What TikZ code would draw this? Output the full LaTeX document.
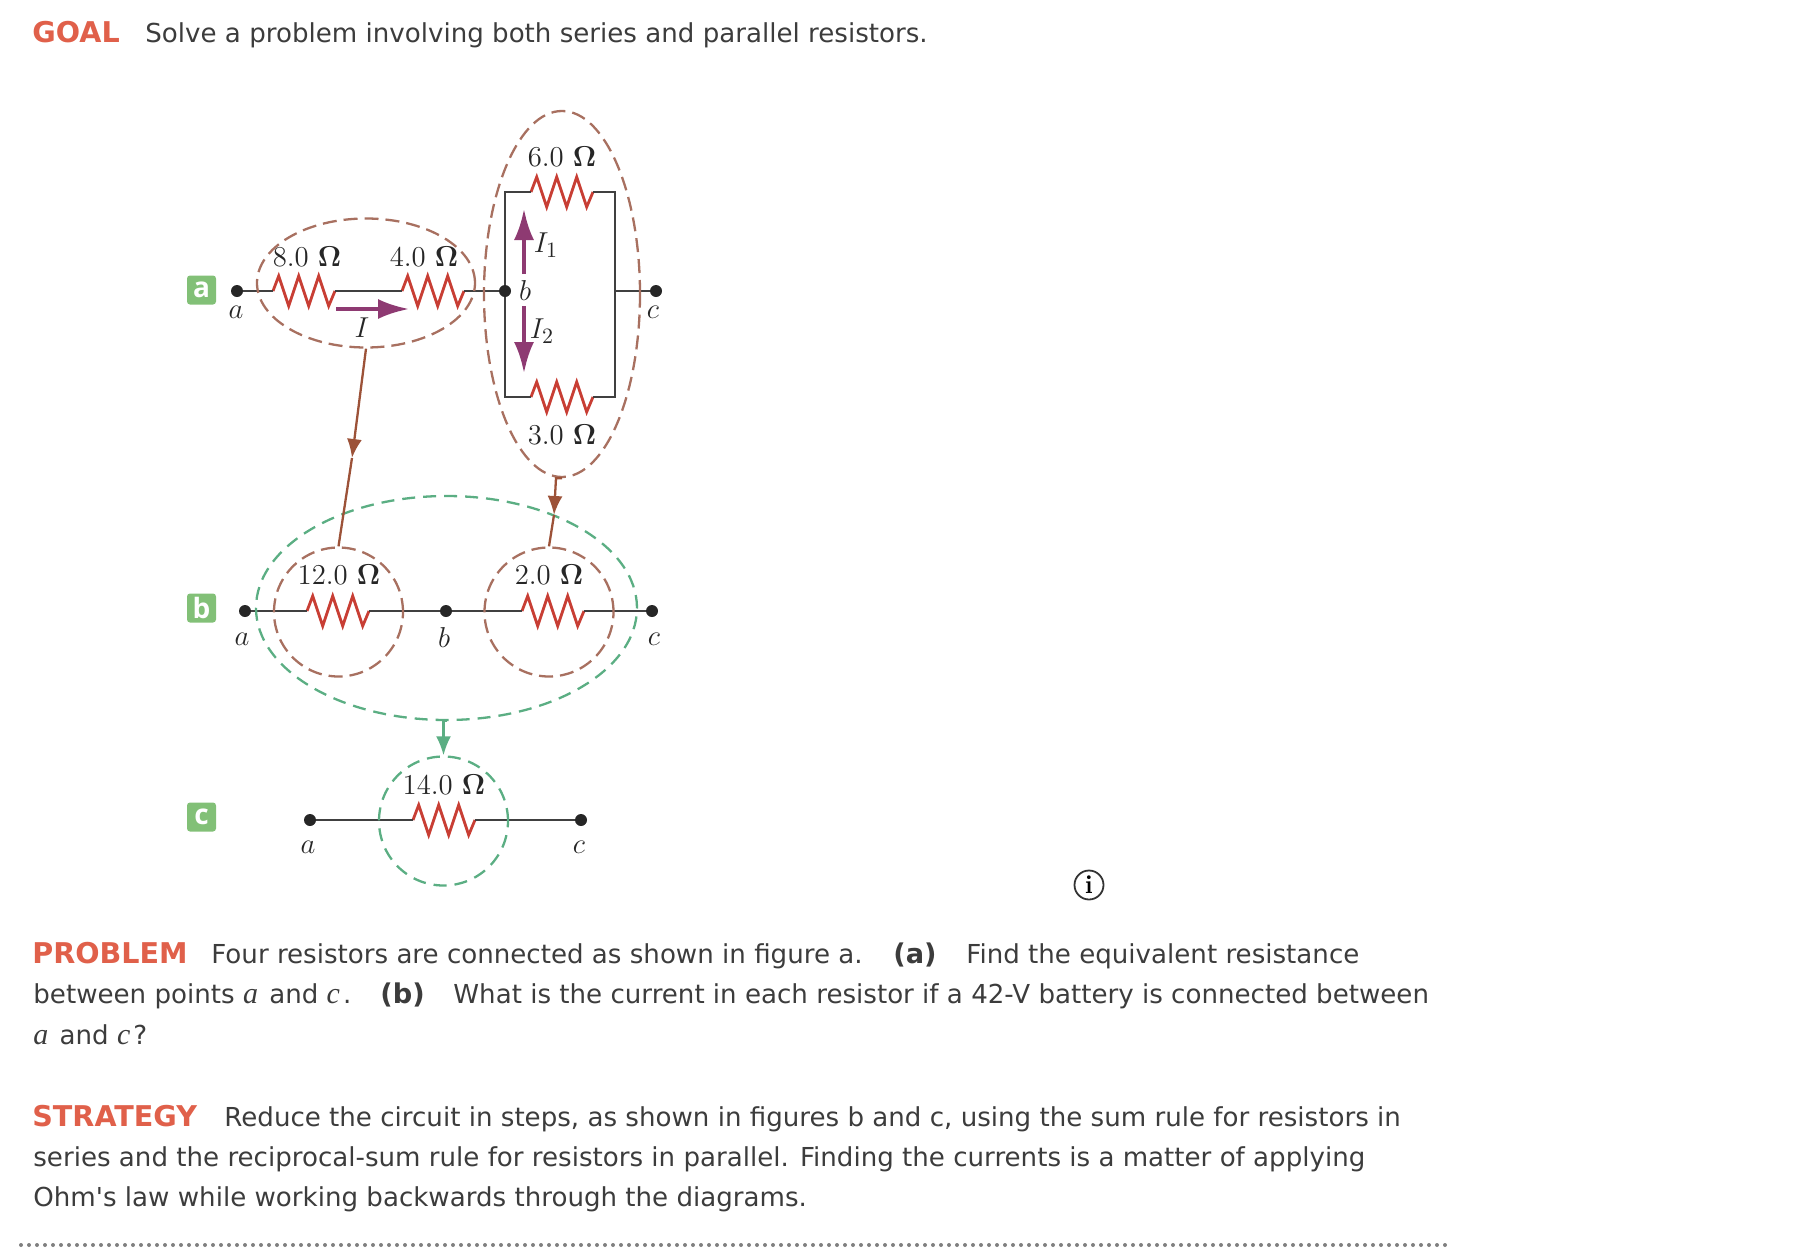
\documentclass[tikz,border=0pt]{standalone}
\usepackage[no-math]{fontspec}
\usepackage{xcolor}
\usetikzlibrary{arrows.meta,shapes.geometric}
\newfontfamily\bodyfont{DejaVu Sans}
\newfontfamily\tagfont{Open Sans}
\newfontfamily\varfont{Liberation Serif}
\newcommand{\varit}[1]{{\varfont\itshape\fontsize{15}{15}\selectfont #1}\hspace{1.5pt}}
\definecolor{headred}{RGB}{224,96,74}
\definecolor{bodygray}{RGB}{60,60,60}
\definecolor{tagfill}{RGB}{130,192,119}
\definecolor{zigred}{RGB}{200,62,52}
\definecolor{loopbrown}{RGB}{168,112,96}
\definecolor{linkbrown}{RGB}{156,82,56}
\definecolor{loopgreen}{RGB}{91,174,131}
\definecolor{currpurple}{RGB}{142,58,114}

\tikzset{
	bodytext/.style={anchor=base west,inner sep=0pt,text=bodygray,font=\bodyfont\fontsize{13.05}{15}\selectfont},
	headtext/.style={anchor=base west,inner sep=0pt,text=headred,font=\bodyfont\bfseries\fontsize{14.3}{17}\selectfont},
	boldtext/.style={bodytext,font=\bodyfont\bfseries\fontsize{13.6}{15}\selectfont},
	tag/.style={draw=none,fill=tagfill,rounded corners=1.5pt,minimum size=14.5pt,inner sep=0pt,text=white,font=\tagfont\bfseries\fontsize{14}{14}\selectfont},
	dot/.style={circle,fill=black!85,inner sep=0pt,minimum size=6pt},
	wire/.style={draw=black!75,line width=1.2pt},
	zigline/.style={draw=zigred,line width=1.4pt,line join=miter},
	val/.style={inner sep=0pt,text=black!85,font=\fontsize{15}{18}\selectfont},
	brownloop/.style={draw=loopbrown,line width=1.15pt,dash pattern=on 7pt off 3.5pt,inner sep=0pt},
	greenloop/.style={draw=loopgreen,line width=1.15pt,dash pattern=on 6.5pt off 4pt,inner sep=0pt},
	brownlink/.style={draw=linkbrown,line width=1.15pt},
	greenlink/.style={draw=loopgreen,line width=1.15pt},
	current/.style={draw=currpurple,line width=2pt,-{Latex[length=15.5pt,width=10pt]}},
	resistor/.pic={
		\coordinate (-w) at (-31,0);
		\coordinate (-e) at (31,0);
		\draw[zigline] (-w) -- ++(5.7,-15) -- ++(10,30) -- ++(10,-30) -- ++(10,30) -- ++(10,-30) -- ++(10,30) -- (-e);
	}
}

\begin{document}
\begin{tikzpicture}[x=0.5pt,y=-0.5pt]
	\useasboundingbox (0,0) rectangle (1796,1248);

	% text
	\node[headtext] (goal) at (32,42) {GOAL};
	\node[bodytext] (goaltext) at (145,42) {Solve a problem involving both series and parallel resistors.};
	\node[headtext] (prob) at (32,963) {PROBLEM};
	\node[bodytext] (prob1) at (211,963) {Four resistors are connected as shown in figure a.};
	\node[boldtext] (parta) at (893,963) {(a)};
	\node[bodytext] (prob1b) at (966,963) {Find the equivalent resistance};
	\node[bodytext] (prob2) at (33,1003) {between points \varit{a} and \varit{c}.};
	\node[boldtext] (partb) at (380,1003) {(b)};
	\node[bodytext] (prob2b) at (453,1003) {What is the current in each resistor if a 42-V battery is connected between};
	\node[bodytext] (prob3) at (33,1044) {\varit{a} and \varit{c}?};
	\node[headtext] (strat) at (32,1126) {STRATEGY};
	\node[bodytext] (strat1) at (224,1126) {Reduce the circuit in steps, as shown in figures b and c, using the sum rule for resistors in};
	\node[bodytext] (strat2) at (33,1166) {series and the reciprocal-sum rule for resistors in parallel. Finding the currents is a matter of applying};
	\node[bodytext] (strat3) at (33,1206) {Ohm's law while working backwards through the diagrams.};
	\coordinate (rulel) at (21,1245);
	\coordinate (ruler) at (1452,1245);
	\draw[black!50,line width=2pt,line cap=round,dash pattern=on 0pt off 4pt] (rulel) -- (ruler);
	\node[circle,draw=black!80,line width=0.9pt,minimum size=14.5pt,inner sep=0pt,font=\bfseries\fontsize{13}{15}\selectfont] (info) at (1089,885) {i};

	% figure a
	\node[tag] (taga) at (201.5,290) {a};
	\node[dot] (a1) at (237,291) {};
	\node[dot] (b1) at (505,291) {};
	\node[dot] (c1) at (656,291) {};
	\pic (r8) at (304,291) {resistor};
	\pic (r4) at (433,291) {resistor};
	\pic (r6) at (562,192) {resistor};
	\pic (r3) at (562,397) {resistor};
	\coordinate (rj) at (615,291);
	\draw[wire] (a1) -- (r8-w);
	\draw[wire] (r8-e) -- (r4-w);
	\draw[wire] (r4-e) -- (b1);
	\draw[wire] (b1) |- (r6-w);
	\draw[wire] (b1) |- (r3-w);
	\draw[wire] (r6-e) -| (rj);
	\draw[wire] (r3-e) -| (rj);
	\draw[wire] (rj) -- (c1);
	\node[brownloop,ellipse,minimum width=109pt,minimum height=64.5pt] (ser) at (366,283) {};
	\node[brownloop,ellipse,minimum width=78pt,minimum height=183pt] (par) at (562,294) {};
	\node[val] (v8) at (307,257) {$8.0\ \mathbf{\Omega}$};
	\node[val] (v4) at (424,257) {$4.0\ \mathbf{\Omega}$};
	\node[val] (v6) at (562,157) {$6.0\ \mathbf{\Omega}$};
	\node[val] (v3) at (562,435) {$3.0\ \mathbf{\Omega}$};
	\node[val] (la1) at (236,312) {$a$};
	\node[val] (lb1) at (525,290) {$b$};
	\node[val] (lc1) at (653,312) {$c$};
	\coordinate (ibeg) at (336,309);
	\coordinate (iend) at (409,309);
	\coordinate (i1beg) at (524,274);
	\coordinate (i1end) at (524,209);
	\coordinate (i2beg) at (524,306);
	\coordinate (i2end) at (524,373);
	\draw[current] (ibeg) -- (iend);
	\draw[current] (i1beg) -- (i1end);
	\draw[current] (i2beg) -- (i2end);
	\node[val] (li) at (362,328) {$I$};
	\node[val] (li1) at (546,245) {$I_1$};
	\node[val] (li2) at (542,331) {$I_2$};

	% figure b
	\node[tag] (tagb) at (201.5,608) {b};
	\node[dot] (a2) at (245,611) {};
	\node[dot] (b2) at (446,611) {};
	\node[dot] (c2) at (652,611) {};
	\pic (r12) at (338,611) {resistor};
	\pic (r2) at (553,611) {resistor};
	\draw[wire] (a2) -- (r12-w);
	\draw[wire] (r12-e) -- (b2);
	\draw[wire] (b2) -- (r2-w);
	\draw[wire] (r2-e) -- (c2);
	\node[brownloop,circle,minimum size=64.5pt] (eq12) at (338.5,612) {};
	\node[brownloop,circle,minimum size=64.5pt] (eq2) at (549,612) {};
	\node[greenloop,ellipse,minimum width=190.5pt,minimum height=112pt] (sum) at (446.5,608) {};
	\node[val] (v12) at (339,575) {$12.0\ \mathbf{\Omega}$};
	\node[val] (v2) at (549,575) {$2.0\ \mathbf{\Omega}$};
	\node[val] (la2) at (242,639) {$a$};
	\node[val] (lb2) at (444,637) {$b$};
	\node[val] (lc2) at (654,639) {$c$};

	% figure c
	\node[tag] (tagc) at (201.5,817) {c};
	\node[dot] (a3) at (310,820) {};
	\node[dot] (c3) at (581,820) {};
	\pic (r14) at (444,820) {resistor};
	\draw[wire] (a3) -- (r14-w);
	\draw[wire] (r14-e) -- (c3);
	\node[greenloop,circle,minimum size=64.5pt] (tot) at (443.5,821) {};
	\node[val] (v14) at (444,785) {$14.0\ \mathbf{\Omega}$};
	\node[val] (la3) at (308,847) {$a$};
	\node[val] (lc3) at (579,847) {$c$};

	% links between figures
	\coordinate (tipa) at (352,458);
	\coordinate (tipb) at (554,515);
	\draw[brownlink,-{Latex[length=9.5pt,width=7.5pt]}] (ser.south) -- (tipa);
	\draw[brownlink] (tipa) -- (eq12.north);
	\draw[brownlink,-{Latex[length=9.5pt,width=7.5pt]}] (par.south) -- ++(-6,0) -- (tipb);
	\draw[brownlink] (tipb) -- (eq2.north);
	\draw[greenlink,-{Latex[length=9.5pt,width=7.5pt]}] (sum.south) -- ++(-3,0) -- (tot.north);
\end{tikzpicture}
\end{document}
